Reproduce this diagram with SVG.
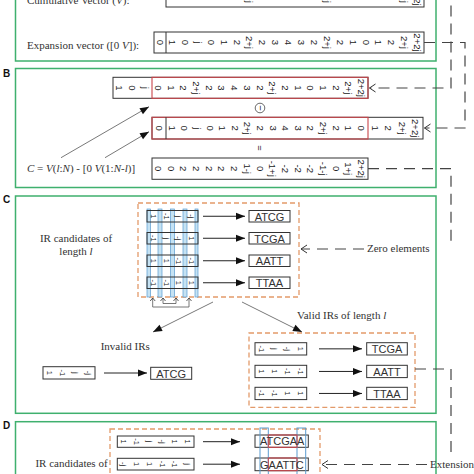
<svg xmlns="http://www.w3.org/2000/svg" width="474" height="474" viewBox="0 0 474 474">
<style>
.panel{fill:#fff;stroke:#3fb06e;stroke-width:1.5}
.box{fill:none;stroke:#333;stroke-width:1}
.red{fill:none;stroke:#c9464c;stroke-width:1.1}
.org{fill:none;stroke:#e39a6a;stroke-width:1.3;stroke-dasharray:5 3}
.lab{font-family:"Liberation Serif",serif;font-size:11px;fill:#333}
.pl{font-family:"Liberation Sans",Arial,sans-serif;font-size:10px;font-weight:bold;fill:#111}
.v{font-family:"Liberation Sans",Arial,sans-serif;font-size:9.5px;fill:#222;text-anchor:middle;dominant-baseline:central}
.g{font-family:"Liberation Sans",Arial,sans-serif;font-size:7.5px;fill:#222;text-anchor:middle;dominant-baseline:central}
.s{font-family:"Liberation Sans",Arial,sans-serif;font-size:11px;fill:#333;text-anchor:middle;dominant-baseline:central}
.sl{font-family:"Liberation Sans",Arial,sans-serif;font-size:11px;fill:#333;dominant-baseline:central}
.dash{fill:none;stroke:#444;stroke-width:1.2;stroke-dasharray:11 7}
.arr{fill:none;stroke:#222;stroke-width:1}
.thin{fill:none;stroke:#555;stroke-width:0.8}
.band{fill:#c5e2f3;stroke:#5a9bd0;stroke-width:0.7}
.bl{fill:none;stroke:#5a9bd0;stroke-width:1}
</style>
<defs>
<marker id="ah" viewBox="-10 -5 11 10" refX="0" refY="0" markerWidth="11" markerHeight="10" markerUnits="userSpaceOnUse" orient="auto"><path d="M-9,-3.5 L0,0 L-9,3.5 Z" fill="#111"/></marker>
<marker id="oh" viewBox="-8 -5 9 10" refX="0" refY="0" markerWidth="9" markerHeight="10" markerUnits="userSpaceOnUse" orient="auto"><path d="M-6,-4 L0,0 L-6,4" fill="none" stroke="#333" stroke-width="1"/></marker>
<marker id="sh" viewBox="-4 -3 5 6" refX="0" refY="0" markerWidth="5" markerHeight="6" markerUnits="userSpaceOnUse" orient="auto-start-reverse"><path d="M-3,-2.5 L0,0 L-3,2.5" fill="none" stroke="#333" stroke-width="0.8"/></marker>
</defs>

<!-- panels -->
<g id="panelA"><rect class="panel" x="15.5" y="-40" width="420.5" height="101"/></g>
<g id="panelB"><rect class="panel" x="15.5" y="68.5" width="420.5" height="119"/><text class="pl" x="3" y="77">B</text></g>
<g id="panelC"><rect class="panel" x="15.5" y="196" width="420.5" height="217.3"/><text class="pl" x="3" y="203">C</text></g>
<g id="panelD"><rect class="panel" x="15.5" y="421.7" width="420.5" height="100"/><text class="pl" x="3" y="429">D</text></g>

<!-- A: cumulative vector -->
<g id="cumVec">
<text class="lab" x="27" y="3.5">Cumulative Vector (<tspan font-style="italic">V</tspan>):</text>
<rect class="box" x="166" y="-14" width="258" height="21"/>
<text class="v" transform="rotate(90 172.5 -3.5)" x="172.5" y="-3.5">1</text>
<text class="v" transform="rotate(90 185.4 -3.5)" x="185.4" y="-3.5">0</text>
<text class="v" transform="rotate(90 198.3 -3.5)" x="198.3" y="-3.5">j</text>
<text class="v" transform="rotate(90 211.2 -3.5)" x="211.2" y="-3.5">0</text>
<text class="v" transform="rotate(90 224.1 -3.5)" x="224.1" y="-3.5">1</text>
<text class="v" transform="rotate(90 237 -3.5)" x="237" y="-3.5">2</text>
<text class="v" transform="rotate(90 249.9 -3.5)" x="249.9" y="-3.5">2+j</text>
<text class="v" transform="rotate(90 262.8 -3.5)" x="262.8" y="-3.5">2</text>
<text class="v" transform="rotate(90 275.7 -3.5)" x="275.7" y="-3.5">3</text>
<text class="v" transform="rotate(90 288.6 -3.5)" x="288.6" y="-3.5">4</text>
<text class="v" transform="rotate(90 301.5 -3.5)" x="301.5" y="-3.5">3</text>
<text class="v" transform="rotate(90 314.4 -3.5)" x="314.4" y="-3.5">2</text>
<text class="v" transform="rotate(90 327.3 -3.5)" x="327.3" y="-3.5">2+j</text>
<text class="v" transform="rotate(90 340.2 -3.5)" x="340.2" y="-3.5">2</text>
<text class="v" transform="rotate(90 353.1 -3.5)" x="353.1" y="-3.5">1</text>
<text class="v" transform="rotate(90 366 -3.5)" x="366" y="-3.5">0</text>
<text class="v" transform="rotate(90 378.9 -3.5)" x="378.9" y="-3.5">1</text>
<text class="v" transform="rotate(90 391.8 -3.5)" x="391.8" y="-3.5">2</text>
<text class="v" transform="rotate(90 404.7 -3.5)" x="404.7" y="-3.5">2+j</text>
<text class="v" transform="rotate(90 417.6 -3.5)" x="417.6" y="-3.5">2+2j</text>
</g>

<!-- A: expansion vector -->
<g id="expVec">
<text class="lab" x="27" y="49">Expansion vector ([0 <tspan font-style="italic">V</tspan>]):</text>
<rect class="box" x="154" y="32" width="270" height="21"/>
<line class="box" x1="166" y1="32" x2="166" y2="53"/>
<text class="v" transform="rotate(90 160 42.5)" x="160" y="42.5">0</text>
<text class="v" transform="rotate(90 172.5 42.5)" x="172.5" y="42.5">1</text>
<text class="v" transform="rotate(90 185.4 42.5)" x="185.4" y="42.5">0</text>
<text class="v" transform="rotate(90 198.3 42.5)" x="198.3" y="42.5">j</text>
<text class="v" transform="rotate(90 211.2 42.5)" x="211.2" y="42.5">0</text>
<text class="v" transform="rotate(90 224.1 42.5)" x="224.1" y="42.5">1</text>
<text class="v" transform="rotate(90 237 42.5)" x="237" y="42.5">2</text>
<text class="v" transform="rotate(90 249.9 42.5)" x="249.9" y="42.5">2+j</text>
<text class="v" transform="rotate(90 262.8 42.5)" x="262.8" y="42.5">2</text>
<text class="v" transform="rotate(90 275.7 42.5)" x="275.7" y="42.5">3</text>
<text class="v" transform="rotate(90 288.6 42.5)" x="288.6" y="42.5">4</text>
<text class="v" transform="rotate(90 301.5 42.5)" x="301.5" y="42.5">3</text>
<text class="v" transform="rotate(90 314.4 42.5)" x="314.4" y="42.5">2</text>
<text class="v" transform="rotate(90 327.3 42.5)" x="327.3" y="42.5">2+j</text>
<text class="v" transform="rotate(90 340.2 42.5)" x="340.2" y="42.5">2</text>
<text class="v" transform="rotate(90 353.1 42.5)" x="353.1" y="42.5">1</text>
<text class="v" transform="rotate(90 366 42.5)" x="366" y="42.5">0</text>
<text class="v" transform="rotate(90 378.9 42.5)" x="378.9" y="42.5">1</text>
<text class="v" transform="rotate(90 391.8 42.5)" x="391.8" y="42.5">2</text>
<text class="v" transform="rotate(90 404.7 42.5)" x="404.7" y="42.5">2+j</text>
<text class="v" transform="rotate(90 417.6 42.5)" x="417.6" y="42.5">2+2j</text>
</g>

<!-- B row 1: V(l:N) -->
<g id="bRow1">
<rect class="box" x="113" y="77.3" width="255" height="21"/>
<rect class="red" x="152" y="77.3" width="216" height="21"/>
<text class="v" transform="rotate(90 119.5 87.8)" x="119.5" y="87.8">1</text>
<text class="v" transform="rotate(90 132.5 87.8)" x="132.5" y="87.8">0</text>
<text class="v" transform="rotate(90 145.5 87.8)" x="145.5" y="87.8">j</text>
<text class="v" transform="rotate(90 158.4 87.8)" x="158.4" y="87.8">0</text>
<text class="v" transform="rotate(90 171.1 87.8)" x="171.1" y="87.8">1</text>
<text class="v" transform="rotate(90 183.8 87.8)" x="183.8" y="87.8">2</text>
<text class="v" transform="rotate(90 196.5 87.8)" x="196.5" y="87.8">2+j</text>
<text class="v" transform="rotate(90 209.2 87.8)" x="209.2" y="87.8">2</text>
<text class="v" transform="rotate(90 221.9 87.8)" x="221.9" y="87.8">3</text>
<text class="v" transform="rotate(90 234.6 87.8)" x="234.6" y="87.8">4</text>
<text class="v" transform="rotate(90 247.3 87.8)" x="247.3" y="87.8">3</text>
<text class="v" transform="rotate(90 260 87.8)" x="260" y="87.8">2</text>
<text class="v" transform="rotate(90 272.7 87.8)" x="272.7" y="87.8">2+j</text>
<text class="v" transform="rotate(90 285.4 87.8)" x="285.4" y="87.8">2</text>
<text class="v" transform="rotate(90 298.1 87.8)" x="298.1" y="87.8">1</text>
<text class="v" transform="rotate(90 310.8 87.8)" x="310.8" y="87.8">0</text>
<text class="v" transform="rotate(90 323.5 87.8)" x="323.5" y="87.8">1</text>
<text class="v" transform="rotate(90 336.2 87.8)" x="336.2" y="87.8">2</text>
<text class="v" transform="rotate(90 348.9 87.8)" x="348.9" y="87.8">2+j</text>
<text class="v" transform="rotate(90 361.6 87.8)" x="361.6" y="87.8">2+2j</text>
</g>

<g id="minus">
<circle cx="260" cy="108" r="4.8" fill="none" stroke="#444" stroke-width="0.8"/>
<text class="v" transform="rotate(90 260 108)" x="260" y="108" font-size="10">−</text>
</g>

<!-- B row 2: [0 V] -->
<g id="bRow2">
<rect class="box" x="152" y="117.3" width="271" height="21.7"/>
<rect class="red" x="152" y="117.3" width="216" height="21.7"/>
<line class="box" x1="166" y1="117.3" x2="166" y2="139"/>
<text class="v" transform="rotate(90 159 128.2)" x="159" y="128.2">0</text>
<text class="v" transform="rotate(90 172.3 128.2)" x="172.3" y="128.2">1</text>
<text class="v" transform="rotate(90 184.9 128.2)" x="184.9" y="128.2">0</text>
<text class="v" transform="rotate(90 197.5 128.2)" x="197.5" y="128.2">j</text>
<text class="v" transform="rotate(90 210.1 128.2)" x="210.1" y="128.2">0</text>
<text class="v" transform="rotate(90 222.7 128.2)" x="222.7" y="128.2">1</text>
<text class="v" transform="rotate(90 235.3 128.2)" x="235.3" y="128.2">2</text>
<text class="v" transform="rotate(90 247.9 128.2)" x="247.9" y="128.2">2+j</text>
<text class="v" transform="rotate(90 260.5 128.2)" x="260.5" y="128.2">2</text>
<text class="v" transform="rotate(90 273.1 128.2)" x="273.1" y="128.2">3</text>
<text class="v" transform="rotate(90 285.7 128.2)" x="285.7" y="128.2">4</text>
<text class="v" transform="rotate(90 298.3 128.2)" x="298.3" y="128.2">3</text>
<text class="v" transform="rotate(90 310.9 128.2)" x="310.9" y="128.2">2</text>
<text class="v" transform="rotate(90 323.5 128.2)" x="323.5" y="128.2">2+j</text>
<text class="v" transform="rotate(90 336.1 128.2)" x="336.1" y="128.2">2</text>
<text class="v" transform="rotate(90 348.7 128.2)" x="348.7" y="128.2">1</text>
<text class="v" transform="rotate(90 361.3 128.2)" x="361.3" y="128.2">0</text>
<text class="v" transform="rotate(90 375 128.2)" x="375" y="128.2">1</text>
<text class="v" transform="rotate(90 388.5 128.2)" x="388.5" y="128.2">2</text>
<text class="v" transform="rotate(90 402 128.2)" x="402" y="128.2">2+j</text>
<text class="v" transform="rotate(90 415.5 128.2)" x="415.5" y="128.2">2+2j</text>
</g>

<g id="equals"><text class="v" transform="rotate(90 260 148)" x="260" y="148" font-size="8">=</text></g>

<!-- B row 3: C -->
<g id="bRow3">
<rect class="box" x="152" y="158" width="216" height="21.3"/>
<text class="v" transform="rotate(90 158.4 168.7)" x="158.4" y="168.7">0</text>
<text class="v" transform="rotate(90 171.1 168.7)" x="171.1" y="168.7">0</text>
<text class="v" transform="rotate(90 183.8 168.7)" x="183.8" y="168.7">2</text>
<text class="v" transform="rotate(90 196.5 168.7)" x="196.5" y="168.7">2</text>
<text class="v" transform="rotate(90 209.2 168.7)" x="209.2" y="168.7">2</text>
<text class="v" transform="rotate(90 221.9 168.7)" x="221.9" y="168.7">2</text>
<text class="v" transform="rotate(90 234.6 168.7)" x="234.6" y="168.7">2</text>
<text class="v" transform="rotate(90 247.3 168.7)" x="247.3" y="168.7">1-j</text>
<text class="v" transform="rotate(90 260 168.7)" x="260" y="168.7">0</text>
<text class="v" transform="rotate(90 272.7 168.7)" x="272.7" y="168.7">-1+j</text>
<text class="v" transform="rotate(90 285.4 168.7)" x="285.4" y="168.7">-2</text>
<text class="v" transform="rotate(90 298.1 168.7)" x="298.1" y="168.7">-2</text>
<text class="v" transform="rotate(90 310.8 168.7)" x="310.8" y="168.7">-2</text>
<text class="v" transform="rotate(90 323.5 168.7)" x="323.5" y="168.7">-1-j</text>
<text class="v" transform="rotate(90 336.2 168.7)" x="336.2" y="168.7">0</text>
<text class="v" transform="rotate(90 348.9 168.7)" x="348.9" y="168.7">1+j</text>
<text class="v" transform="rotate(90 361.6 168.7)" x="361.6" y="168.7">2+2j</text>
</g>

<g id="formula">
<text class="lab" x="27" y="171.5"><tspan font-style="italic">C</tspan> = <tspan font-style="italic">V</tspan>(<tspan font-style="italic">l</tspan>:<tspan font-style="italic">N</tspan>) - [0 <tspan font-style="italic">V</tspan>(1:<tspan font-style="italic">N</tspan>-<tspan font-style="italic">l</tspan>)]</text>
</g>

<!-- C: candidates -->
<g id="candidates">
<rect class="org" x="138" y="203" width="161" height="94"/>
<rect class="band" x="147" y="209" width="3.5" height="88"/>
<rect class="band" x="158" y="209" width="4" height="88"/>
<rect class="band" x="170.5" y="209" width="4" height="88"/>
<rect class="band" x="183" y="209" width="4" height="88"/>
<rect class="band" x="195" y="209" width="3" height="88"/>
<rect class="box" x="147" y="210.5" width="51" height="11.5"/>
<rect class="box" x="147" y="232.5" width="51" height="11.5"/>
<rect class="box" x="147" y="255" width="51" height="11.5"/>
<rect class="box" x="147" y="277" width="51" height="11.5"/>
<text class="g" transform="rotate(90 153.4 216.25)" x="153.4" y="216.25">1</text>
<text class="g" transform="rotate(90 166.1 216.25)" x="166.1" y="216.25">-1</text>
<text class="g" transform="rotate(90 178.9 216.25)" x="178.9" y="216.25">j</text>
<text class="g" transform="rotate(90 191.6 216.25)" x="191.6" y="216.25">-j</text>
<text class="g" transform="rotate(90 153.4 238.25)" x="153.4" y="238.25">-1</text>
<text class="g" transform="rotate(90 166.1 238.25)" x="166.1" y="238.25">j</text>
<text class="g" transform="rotate(90 178.9 238.25)" x="178.9" y="238.25">-j</text>
<text class="g" transform="rotate(90 191.6 238.25)" x="191.6" y="238.25">1</text>
<text class="g" transform="rotate(90 153.4 260.75)" x="153.4" y="260.75">1</text>
<text class="g" transform="rotate(90 166.1 260.75)" x="166.1" y="260.75">1</text>
<text class="g" transform="rotate(90 178.9 260.75)" x="178.9" y="260.75">-1</text>
<text class="g" transform="rotate(90 191.6 260.75)" x="191.6" y="260.75">-1</text>
<text class="g" transform="rotate(90 153.4 282.75)" x="153.4" y="282.75">-1</text>
<text class="g" transform="rotate(90 166.1 282.75)" x="166.1" y="282.75">-1</text>
<text class="g" transform="rotate(90 178.9 282.75)" x="178.9" y="282.75">1</text>
<text class="g" transform="rotate(90 191.6 282.75)" x="191.6" y="282.75">1</text>
<rect class="box" x="249" y="210.5" width="41" height="11.5"/>
<rect class="box" x="249" y="232.5" width="41" height="11.5"/>
<rect class="box" x="249" y="255" width="41" height="11.5"/>
<rect class="box" x="249" y="277" width="41" height="11.5"/>
<text class="s" x="269.5" y="216.5">ATCG</text>
<text class="s" x="269.5" y="238.5">TCGA</text>
<text class="s" x="269.5" y="261">AATT</text>
<text class="s" x="269.5" y="283">TTAA</text>
<text class="lab" x="76" y="241.5" text-anchor="middle">IR candidates of</text>
<text class="lab" x="76" y="255" text-anchor="middle">length <tspan font-style="italic">l</tspan></text>
</g>

<!-- C: invalid -->
<g id="invalid">
<text class="lab" x="100.7" y="350">Invalid IRs</text>
<rect class="box" x="43" y="366.7" width="52" height="12.3"/>
<text class="g" transform="rotate(90 49.5 372.9)" x="49.5" y="372.9">1</text>
<text class="g" transform="rotate(90 62.5 372.9)" x="62.5" y="372.9">-1</text>
<text class="g" transform="rotate(90 75.5 372.9)" x="75.5" y="372.9">j</text>
<text class="g" transform="rotate(90 88.5 372.9)" x="88.5" y="372.9">-j</text>
<rect class="box" x="150.7" y="367.3" width="41" height="12"/>
<text class="s" x="171.2" y="373.5">ATCG</text>
</g>

<!-- C: valid -->
<g id="valid">
<text class="lab" x="297" y="319">Valid IRs of length <tspan font-style="italic">l</tspan></text>
<rect class="org" x="249" y="333" width="166" height="74.3"/>
<rect class="box" x="255" y="342.7" width="51.7" height="12.3"/>
<rect class="box" x="255" y="365.3" width="51.7" height="12.3"/>
<rect class="box" x="255" y="387.3" width="51.7" height="12.3"/>
<text class="g" transform="rotate(90 261.5 348.85)" x="261.5" y="348.85">-1</text>
<text class="g" transform="rotate(90 274.4 348.85)" x="274.4" y="348.85">j</text>
<text class="g" transform="rotate(90 287.3 348.85)" x="287.3" y="348.85">-j</text>
<text class="g" transform="rotate(90 300.2 348.85)" x="300.2" y="348.85">1</text>
<text class="g" transform="rotate(90 261.5 371.45)" x="261.5" y="371.45">1</text>
<text class="g" transform="rotate(90 274.4 371.45)" x="274.4" y="371.45">1</text>
<text class="g" transform="rotate(90 287.3 371.45)" x="287.3" y="371.45">-1</text>
<text class="g" transform="rotate(90 300.2 371.45)" x="300.2" y="371.45">-1</text>
<text class="g" transform="rotate(90 261.5 393.45)" x="261.5" y="393.45">-1</text>
<text class="g" transform="rotate(90 274.4 393.45)" x="274.4" y="393.45">-1</text>
<text class="g" transform="rotate(90 287.3 393.45)" x="287.3" y="393.45">1</text>
<text class="g" transform="rotate(90 300.2 393.45)" x="300.2" y="393.45">1</text>
<rect class="box" x="366.7" y="342.7" width="40.6" height="12.3"/>
<rect class="box" x="366.7" y="365.3" width="40.6" height="12.3"/>
<rect class="box" x="366.7" y="387.3" width="40.6" height="12.3"/>
<text class="s" x="387" y="349">TCGA</text>
<text class="s" x="387" y="371.6">AATT</text>
<text class="s" x="387" y="393.6">TTAA</text>
</g>

<!-- D -->
<g id="extended">
<text class="lab" x="71.5" y="467" text-anchor="middle">IR candidates of</text>
<text class="lab" x="71.5" y="481" text-anchor="middle">length <tspan font-style="italic">l</tspan>+2</text>
<rect class="org" x="110" y="429" width="210" height="60"/>
<rect class="box" x="117.3" y="436" width="76.7" height="11.3"/>
<rect class="box" x="117.3" y="458.3" width="76.7" height="11.7"/>
<text class="g" transform="rotate(90 123.7 441.7)" x="123.7" y="441.7">1</text>
<text class="g" transform="rotate(90 136.5 441.7)" x="136.5" y="441.7">-1</text>
<text class="g" transform="rotate(90 149.3 441.7)" x="149.3" y="441.7">j</text>
<text class="g" transform="rotate(90 162.1 441.7)" x="162.1" y="441.7">-j</text>
<text class="g" transform="rotate(90 174.9 441.7)" x="174.9" y="441.7">1</text>
<text class="g" transform="rotate(90 187.6 441.7)" x="187.6" y="441.7">1</text>
<text class="g" transform="rotate(90 123.7 464.2)" x="123.7" y="464.2">-j</text>
<text class="g" transform="rotate(90 136.5 464.2)" x="136.5" y="464.2">1</text>
<text class="g" transform="rotate(90 149.3 464.2)" x="149.3" y="464.2">1</text>
<text class="g" transform="rotate(90 162.1 464.2)" x="162.1" y="464.2">-1</text>
<text class="g" transform="rotate(90 174.9 464.2)" x="174.9" y="464.2">-1</text>
<text class="g" transform="rotate(90 187.6 464.2)" x="187.6" y="464.2">j</text>
<rect class="box" x="255" y="435" width="53.3" height="12.3"/>
<rect class="box" x="255" y="458" width="53.3" height="12.7"/>
<rect class="bl" x="260" y="428" width="8.3" height="50"/>
<rect class="bl" x="297" y="428" width="8.7" height="50"/>
<rect class="red" x="268.3" y="435" width="28.7" height="12.3"/>
<rect class="red" x="268.3" y="458" width="28.7" height="12.7"/>
<text class="sl" x="260" y="441.3">ATCGAA</text>
<text class="sl" x="260" y="464.5">GAATTC</text>
</g>

<!-- labels on connectors -->
<g id="zeroLabel"><text class="lab" x="367" y="252">Zero elements</text></g>
<g id="extLabel"><text class="lab" x="430" y="468">Extension</text></g>

<!-- connectors -->
<g id="connectors">
<path class="dash" d="M424,-3.5 H451 V88 H369.5" marker-end="url(#oh)"/>
<path class="dash" d="M424,42.5 H465 V128 H424.5" marker-end="url(#oh)"/>
<path class="dash" d="M368,168.7 H451 V244"/>
<path class="dash" d="M364,249 H301" marker-end="url(#oh)"/>
<path class="dash" d="M415,369 H451 V458"/>
<path class="dash" d="M427,464.5 H322" marker-end="url(#oh)"/>
<path class="thin" d="M61,157.7 L149,106.7" marker-end="url(#ah)"/>
<path class="thin" d="M105,157.7 L149,131.7" marker-end="url(#ah)"/>
<path class="arr" d="M203,216.25 H245" marker-end="url(#ah)"/>
<path class="arr" d="M203,238.25 H245" marker-end="url(#ah)"/>
<path class="arr" d="M203,260.75 H245" marker-end="url(#ah)"/>
<path class="arr" d="M203,282.75 H245" marker-end="url(#ah)"/>
<path class="thin" d="M152.7,298 V307 H189 V298" marker-start="url(#sh)" marker-end="url(#sh)"/>
<path class="thin" d="M163,298 V303.5 H176 V298" marker-start="url(#sh)" marker-end="url(#sh)"/>
<path class="thin" d="M213,302 L153,332" marker-end="url(#ah)"/>
<path class="thin" d="M242,302 L302,332" marker-end="url(#ah)"/>
<path class="arr" d="M104,373 H147" marker-end="url(#ah)"/>
<path class="arr" d="M319,348.85 H362" marker-end="url(#ah)"/>
<path class="arr" d="M319,371.45 H362" marker-end="url(#ah)"/>
<path class="arr" d="M319,393.45 H362" marker-end="url(#ah)"/>
<path class="arr" d="M203,441.7 H240" marker-end="url(#ah)"/>
<path class="arr" d="M203,464.2 H240" marker-end="url(#ah)"/>
</g>
</svg>
